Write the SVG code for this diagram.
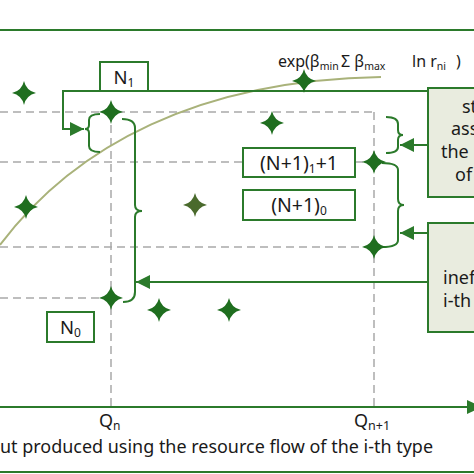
<svg xmlns="http://www.w3.org/2000/svg" width="474" height="474" viewBox="0 0 474 474">
<style>
.g{stroke:#2b7a2b;stroke-width:2;fill:none}
.box{stroke:#2b7a2b;stroke-width:2;fill:#ffffff}
.rbox{stroke:#2b7a2b;stroke-width:2;fill:#e9ecdf}
.d{stroke:#a9a9a9;stroke-width:1.5;stroke-dasharray:8 5;fill:none}
.t{font-family:"Noto Sans","DejaVu Sans",sans-serif;fill:#1a1a1a}
.star{fill:#1f6e1f}
</style>
<defs>
<path id="st" d="M0,-12 Q2.2,-2.2 12,0 Q2.2,2.2 0,12 Q-2.2,2.2 -12,0 Q-2.2,-2.2 0,-12 Z"/>
<marker id="ah" markerWidth="15" markerHeight="14" refX="14" refY="7" orient="auto" markerUnits="userSpaceOnUse">
<path d="M0,0 L14,7 L0,14 Z" fill="#2b7a2b"/>
</marker>
</defs>
<rect width="474" height="474" fill="#ffffff"/>
<line class="g" x1="0" y1="30" x2="474" y2="30"/>
<line class="g" x1="0" y1="472" x2="474" y2="472"/>
<g id="grid">
<path class="d" d="M0,112 H374 M0,162 H243 M355,162 H374 M0,247 H374 M0,298 H111 M111,112 V407 M374,112 V407"/>
</g>
<g id="curve">
<path d="M0,245 C75,145 200,80 381,77" stroke="#a9b27a" stroke-width="2" fill="none"/>
<text class="t" y="67" font-size="16"><tspan x="278">exp(β</tspan><tspan dy="3" font-size="10.5">min</tspan><tspan x="341" dy="-3">Σ β</tspan><tspan dy="3" font-size="10.5">max</tspan><tspan x="412" dy="-3">ln r</tspan><tspan dy="3" font-size="10.5">ni</tspan><tspan x="456" dy="-3">)</tspan></text>
</g>
<g id="axis">
<line class="g" x1="0" y1="407" x2="468" y2="407"/>
<polygon points="467,400 482,407 467,414" fill="#2b7a2b"/>
<text class="t" x="99" y="427" font-size="18">Q<tspan dy="3" font-size="12">n</tspan></text>
<text class="t" x="354" y="427" font-size="18">Q<tspan dy="3" font-size="12.5">n+1</tspan></text>
<text class="t" x="0" y="453" font-size="17.5" textLength="433" lengthAdjust="spacingAndGlyphs">ut produced using the resource flow of the i-th type</text>
</g>
<g id="connectors">
<path class="g" d="M428,91 H63 V129 H84" marker-end="url(#ah)"/>
<path class="g" d="M100,114 Q89,114 89,120 L89,125 Q89,129 85,129 Q89,129 89,133 L89,146 Q89,152 100,152"/>
<path class="g" d="M122,119 Q135,119 135,128 L135,205 Q135,211 142,211 Q135,211 135,217 L135,292 Q135,302 123,302"/>
<path class="g" d="M428,282 H136" marker-end="url(#ah)"/>
<path class="g" d="M386,117 Q398,117 398,124 L398,130 Q398,135 403,135 Q398,135 398,140 L398,147 Q398,153 386,153"/>
<path class="g" d="M428,145 H400" marker-end="url(#ah)"/>
<path class="g" d="M382,163 Q398,163 398,170 L398,199 Q398,205 404,205 Q398,205 398,211 L398,240 Q398,247 382,247"/>
<path class="g" d="M428,233 H400" marker-end="url(#ah)"/>
</g>
<g id="N1">
<rect class="box" x="100" y="62" width="48" height="29"/>
<text class="t" x="124" y="84" font-size="18.5" text-anchor="middle">N<tspan dy="3" font-size="12">1</tspan></text>
</g>
<g id="N0">
<rect class="box" x="47" y="312" width="47" height="30"/>
<text class="t" x="70.5" y="334" font-size="18.5" text-anchor="middle">N<tspan dy="3" font-size="12">0</tspan></text>
</g>
<g id="box_n1_1">
<rect class="box" x="243" y="148" width="112" height="29"/>
<text class="t" x="299" y="170" font-size="19.5" text-anchor="middle">(N+1)<tspan dy="3" font-size="12">1</tspan><tspan dy="-3">+1</tspan></text>
</g>
<g id="box_n1_0">
<rect class="box" x="243" y="190" width="112" height="30"/>
<text class="t" x="299" y="212" font-size="19.5" text-anchor="middle">(N+1)<tspan dy="3" font-size="12">0</tspan></text>
</g>
<g id="box_standard">
<rect class="rbox" x="428" y="88" width="60" height="109"/>
<text class="t" font-size="18"><tspan x="462" y="113">sta</tspan><tspan x="451" y="135">ass</tspan><tspan x="441" y="158">the</tspan><tspan x="455" y="181">of</tspan></text>
</g>
<g id="box_ineffective">
<rect class="rbox" x="428" y="223" width="60" height="109"/>
<text class="t" font-size="18"><tspan x="443" y="284">inef</tspan><tspan x="443" y="307">i-th</tspan></text>
</g>
<g id="stars">
<use href="#st" class="star" x="24" y="93"/>
<use href="#st" class="star" x="111" y="112"/>
<use href="#st" class="star" x="304" y="81"/>
<use href="#st" class="star" x="272" y="123"/>
<use href="#st" class="star" x="26" y="207"/>
<use href="#st" x="195" y="205" fill="#4a6a2c"/>
<use href="#st" class="star" x="374" y="162"/>
<use href="#st" class="star" x="374" y="247"/>
<use href="#st" class="star" x="111" y="298"/>
<use href="#st" class="star" x="159" y="310"/>
<use href="#st" class="star" x="229" y="310"/>
</g>
</svg>
